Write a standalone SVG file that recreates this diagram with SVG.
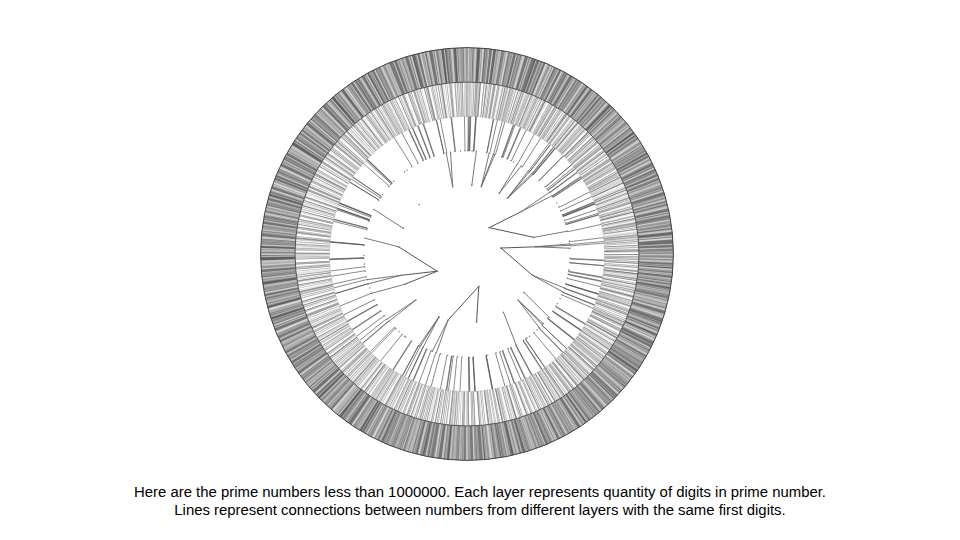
<svg xmlns="http://www.w3.org/2000/svg" width="960" height="540" viewBox="0 0 960 540">
<style>
.ring{fill:none}
.cap{font-family:"Liberation Sans",Arial,sans-serif;font-size:14.9px;fill:#000;text-anchor:middle}
</style>
<defs>
<line id="l4" x1="0" y1="-103.2" x2="0" y2="-137.6"/>
<circle id="d3" cx="0" cy="-103.2" r="0.7"/>
<circle id="d2" cx="0" cy="-68.8" r="0.8"/>
<circle id="d1" cx="0" cy="-34.4" r="0.9"/>
</defs>
<rect width="960" height="540" fill="#fff"/>
<g id="wheel" transform="translate(467,254)">
<g id="layer6">
<circle class="ring" r="189.2" stroke="#9c9c9c" stroke-width="34.4"/>
<circle class="ring" r="189.2" stroke="#222" stroke-opacity="0.28" stroke-width="34.4" stroke-dasharray="3 9 1.5 14 5 7 2 19 4 11 2.5 6"/>
<circle class="ring" r="189.2" stroke="#3a3a3a" stroke-opacity="0.4" stroke-width="34.4" stroke-dasharray="0.8 1.5 1.6 0.9 0.5 2.2 2.4 1.1 0.7 0.6 1.2 3.0 0.9 1.4 3.2 0.8 0.6 1.8 1.0 2.5 0.5 0.7 2.0 1.6"/>
<circle class="ring" r="189.2" stroke="#fff" stroke-opacity="0.45" stroke-width="34.4" stroke-dasharray="1.2 2.6 0.6 1.9 2.1 3.3 0.8 1.0 1.5 4.2 0.7 2.4"/>
<circle class="ring" r="189.2" stroke="#fff" stroke-opacity="0.25" stroke-width="34.4" stroke-dasharray="5 13 2 21 7 9 3 17"/>
</g>
<g id="layer5">
<circle class="ring" r="154.8" stroke="#c4c4c4" stroke-opacity="0.4" stroke-width="34.4" stroke-dasharray="1.5 2.4 0.8 1.6 2.2 3.9 1.0 1.3 1.8 3.0 0.7 2.0 2.4 4.4 1.1 1.7"/>
<circle class="ring" r="154.8" stroke="#8c8c8c" stroke-opacity="0.75" stroke-width="34.4" stroke-dasharray="0.7 1.3 0.5 0.6 1.1 2.4 0.6 0.9 0.8 1.7 0.5 0.4 1.2 3.1 0.6 1.0 0.9 0.5 0.7 2.2 1.4 0.8 0.5 1.6 0.6 0.7 1.0 2.9 0.5 1.1 0.8 0.6 1.3 1.9 0.6 0.5 0.9 2.6 0.7 1.2"/>
<circle class="ring" r="154.8" stroke="#555" stroke-opacity="0.5" stroke-width="34.4" stroke-dasharray="0.6 4.1 0.8 2.7 0.5 6.3 0.7 1.9 1.0 5.2 0.6 3.4 0.5 2.2 0.9 7.1 0.6 3.8 0.7 4.6"/>
<path class="ring" d="M0,-154.8 A154.8,154.8 0 0 1 77.4,134.06" stroke="#777" stroke-opacity="0.35" stroke-width="34.4" stroke-dasharray="0.6 2.3 0.9 1.4 0.5 3.6 1.1 2.0"/>
</g>
<g id="layer4" stroke="#555" stroke-width="0.8" stroke-opacity="0.8">
<use href="#l4" transform="rotate(0.52)"/><use href="#l4" transform="rotate(0.76)"/><use href="#l4" transform="rotate(1.24)"/><use href="#l4" transform="rotate(1.32)"/><use href="#l4" transform="rotate(1.56)"/><use href="#l4" transform="rotate(3.64)"/><use href="#l4" transform="rotate(3.72)"/><use href="#l4" transform="rotate(3.88)"/><use href="#l4" transform="rotate(11.08)"/><use href="#l4" transform="rotate(11.16)"/><use href="#l4" transform="rotate(12.76)"/><use href="#l4" transform="rotate(14.92)"/><use href="#l4" transform="rotate(15.96)"/><use href="#l4" transform="rotate(19.72)"/><use href="#l4" transform="rotate(19.96)"/><use href="#l4" transform="rotate(20.44)"/><use href="#l4" transform="rotate(22.84)"/><use href="#l4" transform="rotate(23.16)"/><use href="#l4" transform="rotate(25.48)"/><use href="#l4" transform="rotate(29.32)"/><use href="#l4" transform="rotate(32.44)"/><use href="#l4" transform="rotate(36.52)"/><use href="#l4" transform="rotate(37.24)"/><use href="#l4" transform="rotate(37.32)"/><use href="#l4" transform="rotate(38.92)"/><use href="#l4" transform="rotate(39.16)"/><use href="#l4" transform="rotate(39.72)"/><use href="#l4" transform="rotate(39.88)"/><use href="#l4" transform="rotate(39.96)"/>
<use href="#l4" transform="rotate(44.44)"/><use href="#l4" transform="rotate(44.52)"/><use href="#l4" transform="rotate(49.48)"/><use href="#l4" transform="rotate(49.56)"/><use href="#l4" transform="rotate(50.92)"/><use href="#l4" transform="rotate(51.72)"/><use href="#l4" transform="rotate(51.88)"/><use href="#l4" transform="rotate(53.32)"/><use href="#l4" transform="rotate(53.56)"/><use href="#l4" transform="rotate(55.72)"/><use href="#l4" transform="rotate(55.96)"/><use href="#l4" transform="rotate(56.44)"/><use href="#l4" transform="rotate(56.68)"/><use href="#l4" transform="rotate(63.16)"/><use href="#l4" transform="rotate(65.32)"/><use href="#l4" transform="rotate(67.72)"/><use href="#l4" transform="rotate(67.96)"/><use href="#l4" transform="rotate(68.44)"/><use href="#l4" transform="rotate(68.52)"/><use href="#l4" transform="rotate(68.76)"/><use href="#l4" transform="rotate(71.08)"/><use href="#l4" transform="rotate(72.76)"/><use href="#l4" transform="rotate(73.32)"/><use href="#l4" transform="rotate(73.48)"/><use href="#l4" transform="rotate(77.56)"/>
<use href="#l4" transform="rotate(83.16)"/><use href="#l4" transform="rotate(84.76)"/><use href="#l4" transform="rotate(85.48)"/><use href="#l4" transform="rotate(92.52)"/><use href="#l4" transform="rotate(92.76)"/><use href="#l4" transform="rotate(94.84)"/><use href="#l4" transform="rotate(94.92)"/><use href="#l4" transform="rotate(99.64)"/><use href="#l4" transform="rotate(99.96)"/><use href="#l4" transform="rotate(101.32)"/><use href="#l4" transform="rotate(101.56)"/><use href="#l4" transform="rotate(103.72)"/><use href="#l4" transform="rotate(106.84)"/><use href="#l4" transform="rotate(106.92)"/><use href="#l4" transform="rotate(107.08)"/><use href="#l4" transform="rotate(109.32)"/><use href="#l4" transform="rotate(109.56)"/><use href="#l4" transform="rotate(111.72)"/><use href="#l4" transform="rotate(111.88)"/><use href="#l4" transform="rotate(113.32)"/>
<use href="#l4" transform="rotate(120.52)"/><use href="#l4" transform="rotate(120.76)"/><use href="#l4" transform="rotate(123.64)"/><use href="#l4" transform="rotate(123.72)"/><use href="#l4" transform="rotate(123.96)"/><use href="#l4" transform="rotate(128.44)"/><use href="#l4" transform="rotate(128.68)"/><use href="#l4" transform="rotate(128.76)"/><use href="#l4" transform="rotate(133.48)"/><use href="#l4" transform="rotate(133.56)"/><use href="#l4" transform="rotate(135.64)"/><use href="#l4" transform="rotate(135.88)"/><use href="#l4" transform="rotate(139.72)"/><use href="#l4" transform="rotate(145.48)"/><use href="#l4" transform="rotate(145.56)"/><use href="#l4" transform="rotate(146.92)"/><use href="#l4" transform="rotate(147.16)"/><use href="#l4" transform="rotate(151.72)"/><use href="#l4" transform="rotate(151.96)"/><use href="#l4" transform="rotate(154.84)"/><use href="#l4" transform="rotate(155.08)"/><use href="#l4" transform="rotate(156.76)"/><use href="#l4" transform="rotate(159.72)"/><use href="#l4" transform="rotate(159.96)"/>
<use href="#l4" transform="rotate(161.56)"/><use href="#l4" transform="rotate(163.96)"/><use href="#l4" transform="rotate(169.24)"/><use href="#l4" transform="rotate(169.32)"/><use href="#l4" transform="rotate(169.48)"/><use href="#l4" transform="rotate(176.52)"/><use href="#l4" transform="rotate(176.68)"/><use href="#l4" transform="rotate(176.76)"/><use href="#l4" transform="rotate(178.84)"/><use href="#l4" transform="rotate(179.08)"/><use href="#l4" transform="rotate(179.16)"/><use href="#l4" transform="rotate(182.92)"/><use href="#l4" transform="rotate(185.56)"/><use href="#l4" transform="rotate(187.72)"/><use href="#l4" transform="rotate(188.44)"/><use href="#l4" transform="rotate(188.68)"/><use href="#l4" transform="rotate(191.16)"/><use href="#l4" transform="rotate(195.16)"/><use href="#l4" transform="rotate(197.56)"/>
<use href="#l4" transform="rotate(200.44)"/><use href="#l4" transform="rotate(202.92)"/><use href="#l4" transform="rotate(203.16)"/><use href="#l4" transform="rotate(205.24)"/><use href="#l4" transform="rotate(205.32)"/><use href="#l4" transform="rotate(206.92)"/><use href="#l4" transform="rotate(207.88)"/><use href="#l4" transform="rotate(207.96)"/><use href="#l4" transform="rotate(212.44)"/><use href="#l4" transform="rotate(212.68)"/><use href="#l4" transform="rotate(218.92)"/><use href="#l4" transform="rotate(223.96)"/><use href="#l4" transform="rotate(224.76)"/><use href="#l4" transform="rotate(229.32)"/><use href="#l4" transform="rotate(229.48)"/><use href="#l4" transform="rotate(231.16)"/><use href="#l4" transform="rotate(233.32)"/><use href="#l4" transform="rotate(236.44)"/><use href="#l4" transform="rotate(236.68)"/>
<use href="#l4" transform="rotate(240.52)"/><use href="#l4" transform="rotate(240.76)"/><use href="#l4" transform="rotate(243.72)"/><use href="#l4" transform="rotate(247.72)"/><use href="#l4" transform="rotate(253.24)"/><use href="#l4" transform="rotate(253.32)"/><use href="#l4" transform="rotate(255.72)"/><use href="#l4" transform="rotate(257.32)"/><use href="#l4" transform="rotate(260.68)"/><use href="#l4" transform="rotate(262.92)"/><use href="#l4" transform="rotate(267.64)"/><use href="#l4" transform="rotate(267.72)"/><use href="#l4" transform="rotate(267.96)"/><use href="#l4" transform="rotate(274.92)"/><use href="#l4" transform="rotate(275.08)"/><use href="#l4" transform="rotate(275.16)"/>
<use href="#l4" transform="rotate(283.72)"/><use href="#l4" transform="rotate(284.44)"/><use href="#l4" transform="rotate(284.68)"/><use href="#l4" transform="rotate(288.76)"/><use href="#l4" transform="rotate(289.24)"/><use href="#l4" transform="rotate(289.32)"/><use href="#l4" transform="rotate(289.48)"/><use href="#l4" transform="rotate(290.92)"/><use href="#l4" transform="rotate(291.64)"/><use href="#l4" transform="rotate(291.72)"/><use href="#l4" transform="rotate(291.88)"/><use href="#l4" transform="rotate(301.48)"/><use href="#l4" transform="rotate(301.56)"/><use href="#l4" transform="rotate(302.92)"/><use href="#l4" transform="rotate(303.88)"/><use href="#l4" transform="rotate(303.96)"/><use href="#l4" transform="rotate(311.16)"/><use href="#l4" transform="rotate(312.76)"/><use href="#l4" transform="rotate(313.24)"/><use href="#l4" transform="rotate(313.48)"/><use href="#l4" transform="rotate(313.56)"/>
<use href="#l4" transform="rotate(327.96)"/><use href="#l4" transform="rotate(331.72)"/><use href="#l4" transform="rotate(334.84)"/><use href="#l4" transform="rotate(335.08)"/><use href="#l4" transform="rotate(336.52)"/><use href="#l4" transform="rotate(336.76)"/><use href="#l4" transform="rotate(338.92)"/><use href="#l4" transform="rotate(339.16)"/><use href="#l4" transform="rotate(341.32)"/><use href="#l4" transform="rotate(341.56)"/><use href="#l4" transform="rotate(347.08)"/><use href="#l4" transform="rotate(347.16)"/><use href="#l4" transform="rotate(348.76)"/><use href="#l4" transform="rotate(353.32)"/><use href="#l4" transform="rotate(353.56)"/><use href="#l4" transform="rotate(358.92)"/>
</g>
<g id="layer3" stroke="#6a6a6a" stroke-width="0.9" fill="none">
<line x1="4.80" y1="-68.63" x2="9.35" y2="-102.78"/>
<line x1="14.30" y1="-67.29" x2="22.16" y2="-100.80"/>
<line x1="14.30" y1="-67.29" x2="26.36" y2="-99.77"/>
<line x1="14.30" y1="-67.29" x2="27.75" y2="-99.40"/>
<line x1="32.30" y1="-60.75" x2="50.35" y2="-90.08"/>
<line x1="32.30" y1="-60.75" x2="54.08" y2="-87.90"/>
<line x1="40.44" y1="-55.66" x2="61.24" y2="-83.07"/>
<line x1="40.44" y1="-55.66" x2="62.40" y2="-82.20"/>
<line x1="40.44" y1="-55.66" x2="64.66" y2="-80.42"/>
<line x1="40.44" y1="-55.66" x2="65.78" y2="-79.52"/>
<line x1="54.21" y1="-42.36" x2="82.63" y2="-61.82"/>
<line x1="54.21" y1="-42.36" x2="85.15" y2="-58.31"/>
<line x1="66.76" y1="-16.64" x2="100.63" y2="-22.86"/>
<line x1="68.42" y1="-7.19" x2="102.71" y2="-10.07"/>
<line x1="68.42" y1="-7.19" x2="102.84" y2="-8.64"/>
<line x1="68.42" y1="-7.19" x2="103.04" y2="-5.76"/>
<line x1="65.44" y1="21.26" x2="97.46" y2="33.94"/>
<line x1="65.44" y1="21.26" x2="95.95" y2="37.99"/>
<line x1="57.04" y1="38.47" x2="81.76" y2="62.96"/>
<line x1="51.13" y1="46.03" x2="76.20" y2="69.59"/>
<line x1="51.13" y1="46.03" x2="75.23" y2="70.64"/>
<line x1="51.13" y1="46.03" x2="72.21" y2="73.74"/>
<line x1="36.46" y1="58.34" x2="49.08" y2="90.77"/>
<line x1="-18.96" y1="66.14" x2="-30.52" y2="98.59"/>
<line x1="-18.96" y1="66.14" x2="-34.62" y2="97.22"/>
<line x1="-27.98" y1="62.85" x2="-43.94" y2="93.38"/>
<line x1="-27.98" y1="62.85" x2="-46.53" y2="92.12"/>
<line x1="-27.98" y1="62.85" x2="-47.81" y2="91.46"/>
<line x1="-51.13" y1="46.03" x2="-78.12" y2="67.43"/>
<line x1="-51.13" y1="46.03" x2="-79.97" y2="65.22"/>
<line x1="-61.84" y1="30.16" x2="-95.41" y2="39.33"/>
<line x1="-65.44" y1="21.26" x2="-98.79" y2="29.82"/>
<line x1="-65.44" y1="21.26" x2="-99.96" y2="25.67"/>
<line x1="-68.42" y1="-7.19" x2="-101.98" y2="-15.79"/>
<line x1="-63.79" y1="-25.77" x2="-93.07" y2="-44.59"/>
<line x1="-14.30" y1="-67.29" x2="-20.75" y2="-101.09"/>
<line x1="-14.30" y1="-67.29" x2="-16.50" y2="-101.87"/>
</g>
<g id="layer2" stroke="#555" stroke-width="1" fill="none">
<line x1="22.11" y1="-26.35" x2="54.21" y2="-42.36"/>
<line x1="22.11" y1="-26.35" x2="66.76" y2="-16.64"/>
<line x1="33.88" y1="-5.97" x2="68.42" y2="-7.19"/>
<line x1="33.88" y1="-5.97" x2="65.44" y2="21.26"/>
<line x1="11.77" y1="32.33" x2="9.58" y2="68.13"/>
<line x1="11.77" y1="32.33" x2="-18.96" y2="66.14"/>
<line x1="-29.79" y1="17.20" x2="-61.84" y2="30.16"/>
<line x1="-29.79" y1="17.20" x2="-65.44" y2="21.26"/>
<line x1="-29.79" y1="17.20" x2="-68.42" y2="-7.19"/>
</g>
<g id="points" fill="#777">
<circle class="ring" r="137.6" stroke="#9a9a9a" stroke-width="0.8" stroke-dasharray="0.7 0.5 0.4 0.9"/>
<circle class="ring" r="172" stroke="#555" stroke-width="1"/>
<circle class="ring" r="206.4" stroke="#444" stroke-width="1"/>
<use href="#d3" transform="rotate(0.4)"/><use href="#d3" transform="rotate(1.2)"/><use href="#d3" transform="rotate(2.8)"/><use href="#d3" transform="rotate(3.6)"/><use href="#d3" transform="rotate(5.2)"/><use href="#d3" transform="rotate(10.8)"/><use href="#d3" transform="rotate(12.4)"/><use href="#d3" transform="rotate(14.8)"/><use href="#d3" transform="rotate(15.6)"/><use href="#d3" transform="rotate(19.6)"/><use href="#d3" transform="rotate(20.4)"/><use href="#d3" transform="rotate(22.8)"/><use href="#d3" transform="rotate(25.2)"/><use href="#d3" transform="rotate(26.8)"/><use href="#d3" transform="rotate(29.2)"/><use href="#d3" transform="rotate(31.6)"/><use href="#d3" transform="rotate(32.4)"/><use href="#d3" transform="rotate(36.4)"/><use href="#d3" transform="rotate(37.2)"/><use href="#d3" transform="rotate(38.8)"/><use href="#d3" transform="rotate(39.6)"/>
<use href="#d3" transform="rotate(44.4)"/><use href="#d3" transform="rotate(49.2)"/><use href="#d3" transform="rotate(50.8)"/><use href="#d3" transform="rotate(51.6)"/><use href="#d3" transform="rotate(53.2)"/><use href="#d3" transform="rotate(55.6)"/><use href="#d3" transform="rotate(56.4)"/><use href="#d3" transform="rotate(60.4)"/><use href="#d3" transform="rotate(62.8)"/><use href="#d3" transform="rotate(65.2)"/><use href="#d3" transform="rotate(67.6)"/><use href="#d3" transform="rotate(68.4)"/><use href="#d3" transform="rotate(70.8)"/><use href="#d3" transform="rotate(72.4)"/><use href="#d3" transform="rotate(73.2)"/><use href="#d3" transform="rotate(77.2)"/>
<use href="#d3" transform="rotate(82.8)"/><use href="#d3" transform="rotate(84.4)"/><use href="#d3" transform="rotate(85.2)"/><use href="#d3" transform="rotate(86.8)"/><use href="#d3" transform="rotate(92.4)"/><use href="#d3" transform="rotate(94.8)"/><use href="#d3" transform="rotate(98.8)"/><use href="#d3" transform="rotate(99.6)"/><use href="#d3" transform="rotate(101.2)"/><use href="#d3" transform="rotate(103.6)"/><use href="#d3" transform="rotate(106.8)"/><use href="#d3" transform="rotate(109.2)"/><use href="#d3" transform="rotate(111.6)"/><use href="#d3" transform="rotate(113.2)"/><use href="#d3" transform="rotate(115.6)"/><use href="#d3" transform="rotate(118.8)"/>
<use href="#d3" transform="rotate(120.4)"/><use href="#d3" transform="rotate(123.6)"/><use href="#d3" transform="rotate(127.6)"/><use href="#d3" transform="rotate(128.4)"/><use href="#d3" transform="rotate(132.4)"/><use href="#d3" transform="rotate(133.2)"/><use href="#d3" transform="rotate(135.6)"/><use href="#d3" transform="rotate(137.2)"/><use href="#d3" transform="rotate(139.6)"/><use href="#d3" transform="rotate(142.8)"/><use href="#d3" transform="rotate(144.4)"/><use href="#d3" transform="rotate(145.2)"/><use href="#d3" transform="rotate(146.8)"/><use href="#d3" transform="rotate(151.6)"/><use href="#d3" transform="rotate(154.8)"/><use href="#d3" transform="rotate(156.4)"/><use href="#d3" transform="rotate(159.6)"/>
<use href="#d3" transform="rotate(161.2)"/><use href="#d3" transform="rotate(163.6)"/><use href="#d3" transform="rotate(168.4)"/><use href="#d3" transform="rotate(169.2)"/><use href="#d3" transform="rotate(176.4)"/><use href="#d3" transform="rotate(178.8)"/><use href="#d3" transform="rotate(182.8)"/><use href="#d3" transform="rotate(185.2)"/><use href="#d3" transform="rotate(187.6)"/><use href="#d3" transform="rotate(188.4)"/><use href="#d3" transform="rotate(190.8)"/><use href="#d3" transform="rotate(194.8)"/><use href="#d3" transform="rotate(197.2)"/><use href="#d3" transform="rotate(199.6)"/>
<use href="#d3" transform="rotate(200.4)"/><use href="#d3" transform="rotate(202.8)"/><use href="#d3" transform="rotate(205.2)"/><use href="#d3" transform="rotate(206.8)"/><use href="#d3" transform="rotate(207.6)"/><use href="#d3" transform="rotate(212.4)"/><use href="#d3" transform="rotate(216.4)"/><use href="#d3" transform="rotate(217.2)"/><use href="#d3" transform="rotate(218.8)"/><use href="#d3" transform="rotate(221.2)"/><use href="#d3" transform="rotate(223.6)"/><use href="#d3" transform="rotate(224.4)"/><use href="#d3" transform="rotate(229.2)"/><use href="#d3" transform="rotate(230.8)"/><use href="#d3" transform="rotate(233.2)"/><use href="#d3" transform="rotate(236.4)"/>
<use href="#d3" transform="rotate(240.4)"/><use href="#d3" transform="rotate(243.6)"/><use href="#d3" transform="rotate(247.6)"/><use href="#d3" transform="rotate(250.8)"/><use href="#d3" transform="rotate(253.2)"/><use href="#d3" transform="rotate(255.6)"/><use href="#d3" transform="rotate(257.2)"/><use href="#d3" transform="rotate(260.4)"/><use href="#d3" transform="rotate(262.8)"/><use href="#d3" transform="rotate(264.4)"/><use href="#d3" transform="rotate(267.6)"/><use href="#d3" transform="rotate(269.2)"/><use href="#d3" transform="rotate(274.8)"/><use href="#d3" transform="rotate(278.8)"/>
<use href="#d3" transform="rotate(283.6)"/><use href="#d3" transform="rotate(284.4)"/><use href="#d3" transform="rotate(288.4)"/><use href="#d3" transform="rotate(289.2)"/><use href="#d3" transform="rotate(290.8)"/><use href="#d3" transform="rotate(291.6)"/><use href="#d3" transform="rotate(295.6)"/><use href="#d3" transform="rotate(301.2)"/><use href="#d3" transform="rotate(302.8)"/><use href="#d3" transform="rotate(303.6)"/><use href="#d3" transform="rotate(305.2)"/><use href="#d3" transform="rotate(310.8)"/><use href="#d3" transform="rotate(312.4)"/><use href="#d3" transform="rotate(313.2)"/><use href="#d3" transform="rotate(314.8)"/>
<use href="#d3" transform="rotate(322.8)"/><use href="#d3" transform="rotate(324.4)"/><use href="#d3" transform="rotate(327.6)"/><use href="#d3" transform="rotate(331.6)"/><use href="#d3" transform="rotate(334.8)"/><use href="#d3" transform="rotate(336.4)"/><use href="#d3" transform="rotate(338.8)"/><use href="#d3" transform="rotate(341.2)"/><use href="#d3" transform="rotate(346.8)"/><use href="#d3" transform="rotate(348.4)"/><use href="#d3" transform="rotate(350.8)"/><use href="#d3" transform="rotate(353.2)"/><use href="#d3" transform="rotate(356.4)"/><use href="#d3" transform="rotate(358.8)"/>
<use href="#d2" transform="rotate(4)"/><use href="#d2" transform="rotate(12)"/><use href="#d2" transform="rotate(28)"/><use href="#d2" transform="rotate(36)"/><use href="#d2" transform="rotate(52)"/><use href="#d2" transform="rotate(76)"/><use href="#d2" transform="rotate(84)"/><use href="#d2" transform="rotate(108)"/><use href="#d2" transform="rotate(124)"/><use href="#d2" transform="rotate(132)"/><use href="#d2" transform="rotate(148)"/><use href="#d2" transform="rotate(172)"/><use href="#d2" transform="rotate(196)"/><use href="#d2" transform="rotate(204)"/><use href="#d2" transform="rotate(228)"/><use href="#d2" transform="rotate(244)"/><use href="#d2" transform="rotate(252)"/><use href="#d2" transform="rotate(276)"/><use href="#d2" transform="rotate(292)"/><use href="#d2" transform="rotate(316)"/><use href="#d2" transform="rotate(348)"/>
<use href="#d1" transform="rotate(40)"/><use href="#d1" transform="rotate(80)"/><use href="#d1" transform="rotate(160)"/><use href="#d1" transform="rotate(240)"/>
</g>
</g>
<g id="caption">
<text class="cap" x="480" y="497">Here are the prime numbers less than 1000000. Each layer represents quantity of digits in prime number.</text>
<text class="cap" x="480" y="515">Lines represent connections between numbers from different layers with the same first digits.</text>
</g>
</svg>
